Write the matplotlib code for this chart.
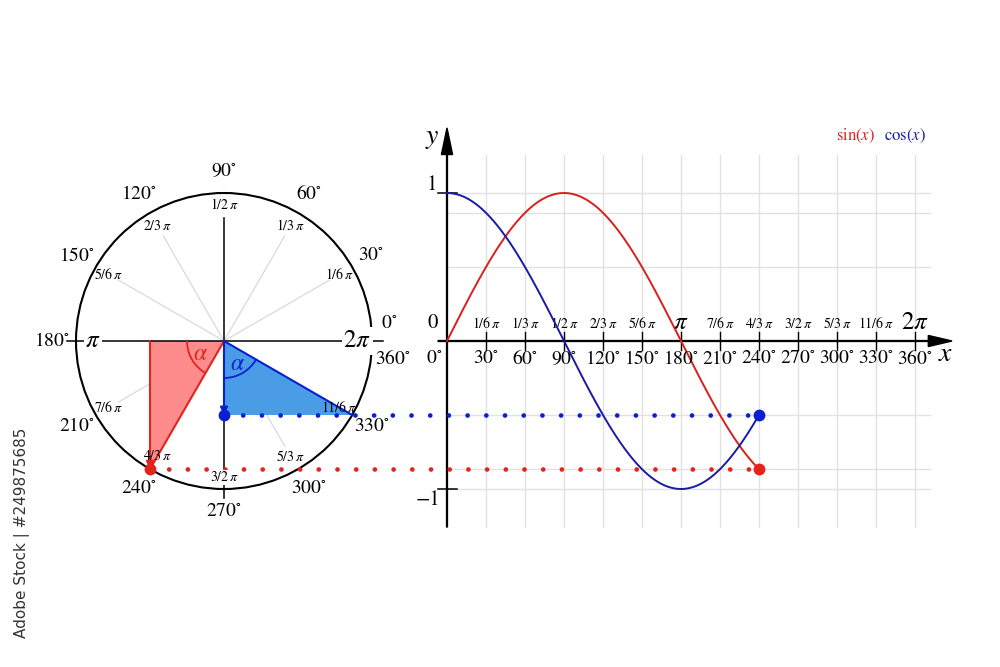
import numpy as np
import matplotlib.pyplot as plt
from matplotlib.patches import Circle, Polygon, Arc

plt.rcParams['font.family'] = ['STIXGeneral', 'DejaVu Sans']
plt.rcParams['mathtext.fontset'] = 'stix'

# --- data ---
circle_deg = [0, 30, 60, 90, 120, 150, 180, 210, 240, 270, 300, 330]
circle_rad = ['', '1/6', '1/3', '1/2', '2/3', '5/6', '', '7/6', '4/3', '3/2', '5/3', '11/6']
graph_deg = [0, 30, 60, 90, 120, 150, 180, 210, 240, 270, 300, 330, 360]
graph_rad = ['', '1/6', '1/3', '1/2', '2/3', '5/6', 'pi', '7/6', '4/3', '3/2', '5/3', '11/6', '2pi']
grid_y = [-1, -0.866, -0.5, 0.5, 0.866, 1]
angle_deg = 240          # the angle shown on the circle
cos_turned_deg = 330     # the blue triangle (cos turned by 90 deg)

RED = '#e3231c'
RED_FILL = '#ff8c8c'
BLUE = '#0b1fd0'
BLUE_FILL = '#4a9ce6'
SIN_COL = '#d8201c'
COS_COL = '#1a1aa6'
GRID = '#e2e2e2'

# pixel layout: circle centre at (224, 341), 148 px per unit
PX = 148.0
W, H = 1000, 667
CX, CY = 224, 341
X0 = (447 - CX) / PX     # origin of the graph
DEG = 1.3 / PX           # graph units per degree


def gx(d):
    return X0 + np.asarray(d) * DEG


fig = plt.figure(figsize=(10, 6.67), dpi=100)
ax = fig.add_axes([0, 0, 1, 1])
ax.set_xlim(-CX / PX, (W - CX) / PX)
ax.set_ylim(-(H - CY) / PX, CY / PX)
ax.axis('off')

# ---------------- unit circle ----------------
for d in circle_deg:
    if d % 90:
        t = np.radians(d)
        ax.plot([0, 0.82 * np.cos(t)], [0, 0.82 * np.sin(t)], color='#d9d9d9', lw=0.9, zorder=1)

ax.add_patch(Circle((0, 0), 1, fill=False, ec='black', lw=1.5, zorder=4))
ax.plot([-1.06, 1.075], [0, 0], color='black', lw=1.1, zorder=3)
ax.plot([0, 0], [0.83, -1.06], color='black', lw=1.1, zorder=3)

sa, ca = np.sin(np.radians(angle_deg)), np.cos(np.radians(angle_deg))
tb = np.radians(cos_turned_deg)

# red triangle (sin)
ax.add_patch(Polygon([(0, 0), (ca, 0), (ca, sa)], closed=True, fc=RED_FILL, ec='none', zorder=2))
ax.plot([0, ca], [0, sa], color=RED, lw=1.5, zorder=5)
ax.annotate('', xy=(ca, sa), xytext=(ca, 0),
            arrowprops=dict(arrowstyle='-|>', color=RED, lw=1.5, mutation_scale=11,
                            shrinkA=0, shrinkB=0), zorder=5)
ax.add_patch(Arc((0, 0), 0.5, 0.5, theta1=180, theta2=angle_deg, color=RED, lw=1.3, zorder=5))
ax.text(0.18 * np.cos(np.radians(210)), 0.18 * np.sin(np.radians(210)), r'$\alpha$',
        color=RED, fontsize=17, ha='center', va='center', zorder=6)

# blue triangle (cos, turned)
ax.add_patch(Polygon([(0, 0), (0, np.sin(tb)), (np.cos(tb), np.sin(tb))], closed=True,
                     fc=BLUE_FILL, ec='none', zorder=2))
ax.plot([0, np.cos(tb)], [0, np.sin(tb)], color=BLUE, lw=1.5, zorder=5)
ax.annotate('', xy=(0, ca), xytext=(0, 0),
            arrowprops=dict(arrowstyle='-|>', color=BLUE, lw=1.5, mutation_scale=11,
                            shrinkA=0, shrinkB=0), zorder=5)
ax.add_patch(Arc((0, 0), 0.5, 0.5, theta1=270, theta2=cos_turned_deg, color=BLUE, lw=1.3, zorder=5))
ax.text(0.18 * np.cos(np.radians(300)), 0.18 * np.sin(np.radians(300)), r'$\alpha$',
        color=BLUE, fontsize=17, ha='center', va='center', zorder=6)

# circle labels
for d, r in zip(circle_deg, circle_rad):
    t = np.radians(d)
    if d == 0:
        ax.text(1.115, 0.12, r'$0^{\circ}$', fontsize=14, ha='center', va='center')
        ax.text(1.14, -0.115, r'$360^{\circ}$', fontsize=14, ha='center', va='center')
    elif d == 180:
        ax.text(-1.16, 0, r'$180^{\circ}$', fontsize=14, ha='center', va='center')
    else:
        ax.text(1.15 * np.cos(t), 1.15 * np.sin(t), r'$%d^{\circ}$' % d,
                fontsize=14, ha='center', va='center')
    if r:
        rr = 0.92 if d in (90, 270) else 0.9
        ax.text(rr * np.cos(t), rr * np.sin(t), r'$%s\,\pi$' % r, fontsize=10,
                ha='center', va='center', zorder=7,
                bbox=dict(fc='white', ec='none', pad=0.3) if d in (90, 270) else None)
ax.text(-0.885, 0, r'$\pi$', fontsize=18, ha='center', va='center', zorder=6,
        bbox=dict(fc='white', ec='none', pad=1))
ax.text(0.9, 0, r'$2\pi$', fontsize=18, ha='center', va='center', zorder=6,
        bbox=dict(fc='white', ec='none', pad=1))

# ---------------- graph ----------------
g_top, g_bot = 1.257, -1.257
for d in graph_deg[1:]:
    ax.plot([gx(d), gx(d)], [g_bot, g_top], color=GRID, lw=1, zorder=0)
for y in grid_y:
    ax.plot([X0, (930 - CX) / PX], [y, y], color=GRID, lw=1, zorder=0)

ax.arrow((438 - CX) / PX, 0, (952 - 438) / PX, 0, width=0.006, head_width=0.075,
         head_length=0.16, length_includes_head=True, color='black', zorder=4)
ax.arrow(X0, g_bot, 0, 1.44 - g_bot, width=0.006, head_width=0.075,
         head_length=0.18, length_includes_head=True, color='black', zorder=4)
for d in graph_deg[1:]:
    ax.plot([gx(d), gx(d)], [-0.06, 0.06], color='black', lw=1, zorder=4)
for y in (1, -1):
    ax.plot([(438 - CX) / PX, (457 - CX) / PX], [y, y], color='black', lw=1.1, zorder=4)

for d, r in zip(graph_deg, graph_rad):
    if d == 0:
        ax.text(gx(d) - 0.09, -0.12, r'$0^{\circ}$', fontsize=14, ha='center', va='center')
        continue
    ax.text(gx(d), -0.12, r'$%d^{\circ}$' % d, fontsize=14, ha='center', va='center', zorder=6)
    if r == 'pi':
        ax.text(gx(d), 0.12, r'$\pi$', fontsize=18, ha='center', va='center')
    elif r == '2pi':
        ax.text(gx(d), 0.12, r'$2\pi$', fontsize=18, ha='center', va='center')
    else:
        ax.text(gx(d), 0.115, r'$%s\,\pi$' % r, fontsize=10, ha='center', va='center')

ax.text(X0 - 0.1, 0.12, '0', fontsize=15, ha='center', va='center')
ax.text(X0 - 0.1, 1.054, '1', fontsize=15, ha='center', va='center')
ax.text(X0 - 0.13, -1.074, '\u22121', fontsize=15, ha='center', va='center')
ax.text(X0 - 0.1, 1.37, r'$y$', fontsize=20, ha='center', va='center')
ax.text((946 - CX) / PX, -0.09, r'$x$', fontsize=20, ha='center', va='center')

ax.text(4.264, 1.385, r'$\mathrm{sin}(x)$', fontsize=12, color=SIN_COL, ha='center', va='center')
ax.text(4.6, 1.385, r'$\mathrm{cos}(x)$', fontsize=12, color=COS_COL, ha='center', va='center')

# curves up to the chosen angle
xs = np.linspace(0, angle_deg, 400)
ax.plot(gx(xs), np.sin(np.radians(xs)), color=SIN_COL, lw=1.4, zorder=5)
ax.plot(gx(xs), np.cos(np.radians(xs)), color=COS_COL, lw=1.4, zorder=5)

# dotted links circle -> graph
ax.plot([0, gx(angle_deg)], [ca, ca], color=BLUE, lw=3.4, dashes=(0.01, 3.95),
        dash_capstyle='round', zorder=6)
ax.plot([ca, gx(angle_deg)], [sa, sa], color=RED, lw=3.4, dashes=(0.01, 3.95),
        dash_capstyle='round', zorder=6)
ax.plot([0, gx(angle_deg)], [ca, ca], 'o', color=BLUE, ms=7.5, zorder=7)
ax.plot([ca, gx(angle_deg)], [sa, sa], 'o', color=RED, ms=7.5, zorder=7)

ax.text(-1.365, -1.297, 'Adobe Stock | #249875685', rotation=90, fontsize=11,
        family='DejaVu Sans', color='#333333', ha='center', va='center')

fig.savefig('out.png', dpi=100)
